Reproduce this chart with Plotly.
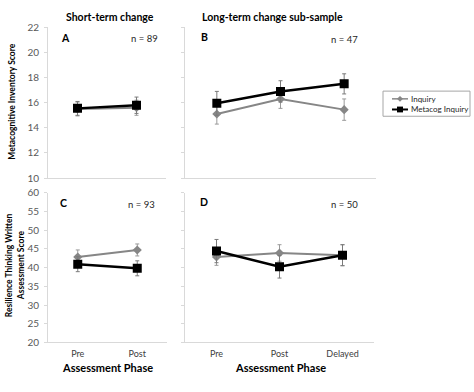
import plotly.graph_objects as go

# ---------------- data ----------------
phases_short = ["Pre", "Post"]
phases_long = ["Pre", "Post", "Delayed"]

# Metacognitive Inventory Score
mi_short_inquiry = [15.5, 15.6]
mi_short_inquiry_err = [0.55, 0.6]
mi_short_meta = [15.55, 15.8]
mi_short_meta_err = [0.55, 0.65]

mi_long_inquiry = [15.1, 16.3, 15.45]
mi_long_inquiry_err = [0.8, 0.75, 0.85]
mi_long_meta = [15.95, 16.9, 17.5]
mi_long_meta_err = [0.95, 0.85, 0.8]

# Resilience Thinking Written Assessment Score
rt_short_inquiry = [42.8, 44.7]
rt_short_inquiry_err = [1.9, 1.6]
rt_short_meta = [40.9, 39.8]
rt_short_meta_err = [2.0, 2.0]

rt_long_inquiry = [42.8, 43.9, 43.3]
rt_long_inquiry_err = [2.2, 2.2, 2.8]
rt_long_meta = [44.4, 40.2, 43.3]
rt_long_meta_err = [3.1, 3.0, 2.8]

series_names = ["Inquiry", "Metacog Inquiry"]
panel_letters = ["A", "B", "C", "D"]
panel_n = ["n = 89", "n = 47", "n = 93", "n = 50"]

# ---------------- style ----------------
W, H = 474, 392
FONT = "Lato"
GRAY = "#868686"
BLACK = "#000000"
AXC = "#d9d9d9"
TXT = "#595959"


def px_x(a, b):
    return [a / W, b / W]


def px_y(top, bottom):
    return [1 - bottom / H, 1 - top / H]


fig = go.Figure()

panels = [
    ("x", "y", phases_short, mi_short_inquiry, mi_short_inquiry_err, mi_short_meta, mi_short_meta_err),
    ("x2", "y2", phases_long, mi_long_inquiry, mi_long_inquiry_err, mi_long_meta, mi_long_meta_err),
    ("x3", "y3", phases_short, rt_short_inquiry, rt_short_inquiry_err, rt_short_meta, rt_short_meta_err),
    ("x4", "y4", phases_long, rt_long_inquiry, rt_long_inquiry_err, rt_long_meta, rt_long_meta_err),
]

for xa, ya, cats, yi, ei, ym, em in panels:
    fig.add_trace(go.Scatter(
        x=cats, y=yi, xaxis=xa, yaxis=ya, name=series_names[0], showlegend=False,
        mode="lines+markers",
        line=dict(color=GRAY, width=2),
        marker=dict(symbol="diamond", size=7, color=GRAY),
        error_y=dict(type="data", array=ei, color="#9a9a9a", thickness=1, width=2),
    ))
    fig.add_trace(go.Scatter(
        x=cats, y=ym, xaxis=xa, yaxis=ya, name=series_names[1], showlegend=False,
        mode="lines+markers",
        line=dict(color=BLACK, width=2.5),
        marker=dict(symbol="square", size=9, color=BLACK),
        error_y=dict(type="data", array=em, color="#7a7a7a", thickness=1, width=2),
    ))

common_x = dict(showline=True, linecolor=AXC, linewidth=1, ticks="", showgrid=False,
                zeroline=False, tickfont=dict(family=FONT, size=9, color="#404040"),
                ticklabelstandoff=3)
common_y = dict(showline=True, linecolor=AXC, linewidth=1, ticks="outside", ticklen=3,
                tickcolor=AXC, showgrid=False, zeroline=False, ticklabelstandoff=3,
                tickfont=dict(family=FONT, size=10, color=TXT))

fig.update_layout(
    width=W, height=H,
    margin=dict(l=0, r=0, t=0, b=0),
    paper_bgcolor="white", plot_bgcolor="white",
    font=dict(family=FONT, color="#000000"),
    showlegend=False,
    xaxis=dict(domain=px_x(48, 166), anchor="y", type="category", range=[-0.5, 1.5],
               showticklabels=False, **common_x),
    yaxis=dict(domain=px_y(21, 177), anchor="x", range=[10, 22], dtick=2, **common_y),
    xaxis2=dict(domain=px_x(185, 376), anchor="y2", type="category", range=[-0.5, 2.5],
                showticklabels=False, **common_x),
    yaxis2=dict(domain=px_y(21, 177), anchor="x2", range=[10, 22], dtick=2,
                showticklabels=False, **common_y),
    xaxis3=dict(domain=px_x(48, 167), anchor="y3", type="category", range=[-0.5, 1.5],
                **common_x),
    yaxis3=dict(domain=px_y(192, 347), anchor="x3", range=[20, 60], dtick=5, **common_y),
    xaxis4=dict(domain=px_x(185, 374), anchor="y4", type="category", range=[-0.5, 2.5],
                **common_x),
    yaxis4=dict(domain=px_y(192, 347), anchor="x4", range=[20, 60], dtick=5,
                showticklabels=False, **common_y),
)


def ann(text, x, y, size=9, bold=False, angle=0, color="#000000", xanchor="center"):
    t = f"<b>{text}</b>" if bold else text
    fig.add_annotation(text=t, x=x / W, y=1 - y / H, xref="paper", yref="paper",
                       showarrow=False, textangle=angle, xanchor=xanchor, yanchor="middle",
                       font=dict(family=FONT, size=size, color=color))


ann("Short-term change", 110, 10, size=10.5, bold=True)
ann("Long-term change sub-sample", 272, 10, size=10.5, bold=True)

ann(panel_letters[0], 65, 32, size=10.5, bold=True)
ann(panel_letters[1], 204, 31, size=10.5, bold=True)
ann(panel_letters[2], 64, 203, size=10.5, bold=True)
ann(panel_letters[3], 204, 202, size=10.5, bold=True)

ann(panel_n[0], 144, 33, size=9.5, color="#262626")
ann(panel_n[1], 344, 34, size=9.5, color="#262626")
ann(panel_n[2], 141, 204, size=9.5, color="#262626")
ann(panel_n[3], 344, 204, size=9.5, color="#262626")

ann("Metacognitive Inventory Score", 12, 98, size=8.5, bold=True, angle=-90)
ann("Resilience Thinking Written", 9, 267, size=8.5, bold=True, angle=-90)
ann("Assessment Score", 21, 267, size=8.5, bold=True, angle=-90)

ann("Assessment Phase", 107, 373, size=11, bold=True)
ann("Assessment Phase", 280, 373, size=11, bold=True)

# ---------------- legend (boxed key, Excel style) ----------------
def sx(v):
    return v / W


def sy(v):
    return 1 - v / H


fig.add_shape(type="rect", xref="paper", yref="paper",
              x0=sx(383), x1=sx(470), y0=sy(113), y1=sy(87),
              line=dict(color="#a6a6a6", width=1), fillcolor="white")
legend_rows = [
    (series_names[0], 95, GRAY, 1.5, "diamond"),
    (series_names[1], 106, BLACK, 2, "square"),
]
for name, yy, col, lw, sym in legend_rows:
    fig.add_shape(type="line", xref="paper", yref="paper",
                  x0=sx(392), x1=sx(408), y0=sy(yy), y1=sy(yy),
                  line=dict(color=col, width=lw))
    if sym == "square":
        fig.add_shape(type="rect", xref="paper", yref="paper",
                      x0=sx(397), x1=sx(403), y0=sy(yy + 3), y1=sy(yy - 3),
                      line=dict(color=col, width=0), fillcolor=col)
    else:
        path = (f"M {sx(400)},{sy(yy - 3)} L {sx(403)},{sy(yy)} "
                f"L {sx(400)},{sy(yy + 3)} L {sx(397)},{sy(yy)} Z")
        fig.add_shape(type="path", xref="paper", yref="paper", path=path,
                      line=dict(color=col, width=0), fillcolor=col)
    ann(name, 409, yy, size=8, color="#262626", xanchor="left")

fig.write_html(
    "out.html",
    config={"displayModeBar": False},
    post_script="document.body.style.margin='0';document.body.style.overflow='hidden';",
)
